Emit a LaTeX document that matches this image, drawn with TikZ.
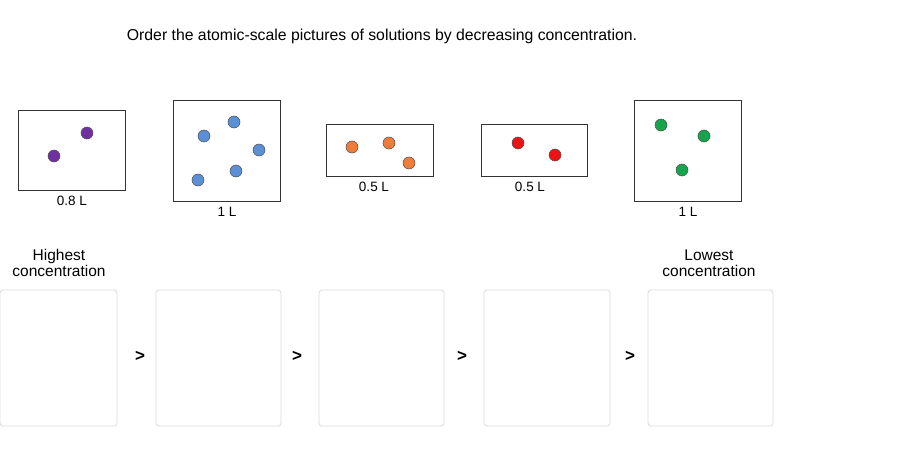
\documentclass[tikz,border=0pt]{standalone}
\usepackage{fontspec}
\setmainfont{Liberation Sans}
\definecolor{pur}{HTML}{7030A0}
\definecolor{blu}{HTML}{5B8FD6}
\definecolor{ora}{HTML}{F07C3A}
\definecolor{rd}{HTML}{EE1111}
\definecolor{grn}{HTML}{16A54C}
\begin{document}
\begin{tikzpicture}[x=1pt,y=-1pt,
  pic/.style={draw=black!80,line width=0.9pt,inner sep=0},
  dot/.style={circle,draw=black!70,line width=0.5pt,minimum size=12pt,inner sep=0},
  ans/.style={draw=black!15,rounded corners=3pt,line width=0.8pt},
  lab/.style={font=\fontsize{13.5}{15}\selectfont},
  txt/.style={font=\fontsize{15.5}{16}\selectfont,align=center}]
\useasboundingbox (0,0) rectangle (908,466);
\node[font=\fontsize{15.8}{18}\selectfont] (title) at (382,36) {Order the atomic-scale pictures of solutions by decreasing concentration.};
% boxes
\draw[pic] (18,110) rectangle (125,190);
\node[dot,fill=pur] (p1) at (87,133) {}; \node[dot,fill=pur] (p2) at (54,156) {};
\node[lab] (l1) at (72,201) {0.8 L};
\draw[pic] (173,100) rectangle (280,201);
\foreach \n/\x/\y in {b1/234/122,b2/204/136,b3/259/150,b4/236/171,b5/198/180} \node[dot,fill=blu] (\n) at (\x,\y) {};
\node[lab] (l2) at (227,212) {1 L};
\draw[pic] (326,124) rectangle (433,176);
\foreach \n/\x/\y in {o1/352/147,o2/389/143,o3/409/163} \node[dot,fill=ora] (\n) at (\x,\y) {};
\node[lab] (l3) at (374,187) {0.5 L};
\draw[pic] (481,124) rectangle (587,176);
\foreach \n/\x/\y in {r1/518/143,r2/555/155} \node[dot,fill=rd] (\n) at (\x,\y) {};
\node[lab] (l4) at (530,187) {0.5 L};
\draw[pic] (634,100) rectangle (741,201);
\foreach \n/\x/\y in {g1/661/125,g2/704/136,g3/682/170} \node[dot,fill=grn] (\n) at (\x,\y) {};
\node[lab] (l5) at (688,212) {1 L};
% labels
\node[txt] (hi) at (59,263) {Highest\\concentration};
\node[txt] (lo) at (709,263) {Lowest\\concentration};
% answer boxes
\foreach \a/\b in {0/117,156/281,319/444,484/610,648/773} \draw[ans] (\a,290) rectangle (\b,426);
\foreach \n/\x in {g1/140,g2/297,g3/462,g4/630} \node[font=\bfseries\fontsize{17}{18}\selectfont] (\n) at (\x,356) {>};
\end{tikzpicture}
\end{document}
